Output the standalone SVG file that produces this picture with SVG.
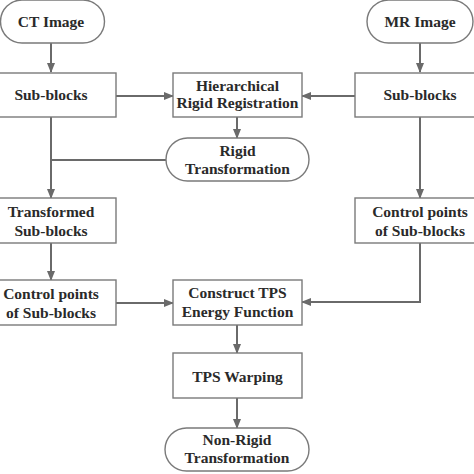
<svg xmlns="http://www.w3.org/2000/svg" width="474" height="474" viewBox="0 0 474 474">
<style>
.box{fill:#fff;stroke:#7a7a7a;stroke-width:1.4}
.t{font-family:"Liberation Serif","Times New Roman",serif;font-weight:bold;font-size:15.5px;fill:#2a2a2a;text-anchor:middle}
.c{fill:none;stroke:#6a6a6a;stroke-width:2}
</style>
<defs>
<marker id="ah" markerWidth="10" markerHeight="10" refX="9" refY="5" orient="auto" markerUnits="userSpaceOnUse">
<path d="M0,1 L10,5 L0,9 Z" fill="#6a6a6a"/>
</marker>
</defs>
<rect width="474" height="474" fill="#fff"/>
<g id="connectors">
<line class="c" x1="51" y1="43" x2="51" y2="72" marker-end="url(#ah)"/>
<line class="c" x1="420" y1="43" x2="420" y2="72" marker-end="url(#ah)"/>
<line class="c" x1="116" y1="96" x2="173" y2="96" marker-end="url(#ah)"/>
<line class="c" x1="355" y1="96" x2="302" y2="96" marker-end="url(#ah)"/>
<line class="c" x1="237" y1="117" x2="237" y2="138" marker-end="url(#ah)"/>
<line class="c" x1="166" y1="160" x2="51" y2="160"/>
<line class="c" x1="51" y1="117" x2="51" y2="198" marker-end="url(#ah)"/>
<line class="c" x1="420" y1="117" x2="420" y2="198" marker-end="url(#ah)"/>
<line class="c" x1="51" y1="243" x2="51" y2="280" marker-end="url(#ah)"/>
<line class="c" x1="116" y1="303" x2="173" y2="303" marker-end="url(#ah)"/>
<polyline class="c" points="420,243 420,302 302,302" marker-end="url(#ah)"/>
<line class="c" x1="237" y1="325" x2="237" y2="353" marker-end="url(#ah)"/>
<line class="c" x1="237" y1="398" x2="237" y2="428" marker-end="url(#ah)"/>
</g>
<g id="ct-image">
<rect class="box" x="0.5" y="0" width="104" height="43" rx="21.5"/>
<text class="t" x="51" y="27">CT Image</text>
</g>
<g id="mr-image">
<rect class="box" x="367" y="0" width="106" height="43" rx="21.5"/>
<text class="t" x="420" y="27">MR Image</text>
</g>
<g id="sub-blocks-left">
<rect class="box" x="-14" y="73" width="130" height="44"/>
<text class="t" x="51" y="100">Sub-blocks</text>
</g>
<g id="hierarchical">
<rect class="box" x="173" y="73" width="129" height="44"/>
<text class="t" x="237.5" y="91">Hierarchical</text>
<text class="t" x="237.5" y="108">Rigid Registration</text>
</g>
<g id="sub-blocks-right">
<rect class="box" x="355" y="73" width="131" height="44"/>
<text class="t" x="420" y="100">Sub-blocks</text>
</g>
<g id="rigid-transformation">
<rect class="box" x="166" y="138" width="143" height="43" rx="21.5"/>
<text class="t" x="237.5" y="156">Rigid</text>
<text class="t" x="237.5" y="174">Transformation</text>
</g>
<g id="transformed-sub-blocks">
<rect class="box" x="-14" y="198" width="130" height="45"/>
<text class="t" x="51" y="217">Transformed</text>
<text class="t" x="51" y="236">Sub-blocks</text>
</g>
<g id="control-points-right">
<rect class="box" x="355" y="198" width="131" height="45"/>
<text class="t" x="420" y="217">Control points</text>
<text class="t" x="420" y="236">of Sub-blocks</text>
</g>
<g id="control-points-left">
<rect class="box" x="-14" y="280" width="130" height="45"/>
<text class="t" x="51" y="299">Control points</text>
<text class="t" x="51" y="318">of Sub-blocks</text>
</g>
<g id="construct-tps">
<rect class="box" x="173" y="280" width="129" height="45"/>
<text class="t" x="237.5" y="298">Construct TPS</text>
<text class="t" x="237.5" y="317">Energy Function</text>
</g>
<g id="tps-warping">
<rect class="box" x="173" y="353" width="129" height="45"/>
<text class="t" x="237.5" y="382">TPS Warping</text>
</g>
<g id="non-rigid">
<rect class="box" x="165" y="428" width="144" height="43" rx="21.5"/>
<text class="t" x="237" y="445">Non-Rigid</text>
<text class="t" x="237" y="463">Transformation</text>
</g>
</svg>
